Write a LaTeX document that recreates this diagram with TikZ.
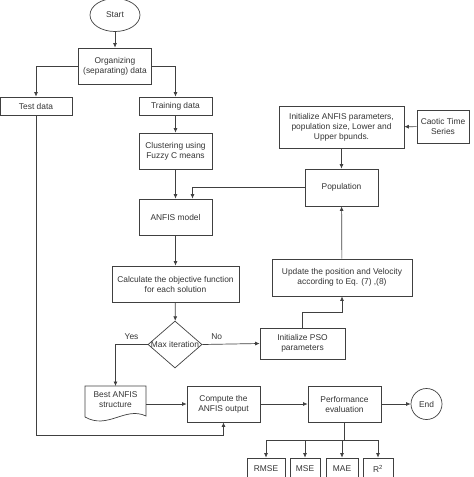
\documentclass[tikz,border=0pt]{standalone}
\usepackage{fontspec}
\setmainfont{Liberation Sans}
\usetikzlibrary{shapes.geometric,arrows.meta}
\begin{document}
\begin{tikzpicture}[x=1pt,y=-1pt,
 every node/.style={font=\fontsize{8.4}{10}\selectfont, text=black!80},
 box/.style={draw=black!75, line width=0.7pt, align=center, inner sep=0pt},
 conn/.style={draw=black!75, line width=0.7pt, -{Latex[length=4.5pt,width=4pt]}},
 plain/.style={draw=black!75, line width=0.7pt}]
\useasboundingbox (0,0) rectangle (474,477);
% nodes
\node[box, ellipse, minimum width=50pt, minimum height=33pt] (start) at (115,15) {Start};
\node[box, minimum width=73pt, minimum height=36pt] (org) at (115,66) {Organizing\\(separating) data};
\node[box, minimum width=72pt, minimum height=18pt] (test) at (36,106) {Test data};
\node[box, minimum width=73pt, minimum height=18pt] (train) at (175.5,106) {Training data};
\node[box, minimum width=73pt, minimum height=36pt] (clust) at (175.5,151) {Clustering using\\Fuzzy C means};
\node[box, minimum width=73pt, minimum height=36pt] (anfis) at (175.5,217) {ANFIS model};
\node[box, minimum width=127pt, minimum height=36pt] (calc) at (175.5,284) {Calculate the objective function\\for each solution};
\node[box, diamond, minimum width=54pt, minimum height=47pt] (dia) at (175,344.5) {};
\node at (dia.center) {Max iteration};
\node[box, minimum width=125pt, minimum height=42pt] (init) at (341.5,127) {Initialize ANFIS parameters,\\population size, Lower and\\Upper bpunds.};
\node[box, minimum width=52pt, minimum height=33pt] (caotic) at (443,126.5) {Caotic Time\\Series};
\node[box, minimum width=73pt, minimum height=37pt] (pop) at (341.5,187.5) {Population};
\node[box, minimum width=140pt, minimum height=37pt] (upd) at (342,277.5) {Update the position and Velocity\\according to Eq. (7) ,(8)};
\node[box, minimum width=85pt, minimum height=31pt] (pso) at (302.5,343.5) {Initialize PSO\\parameters};
\node[inner sep=0pt, minimum width=61pt, minimum height=28pt, align=center] (best) at (115.5,400) {Best ANFIS\\structure};
\draw[plain] (85,417) -- (85,386) -- (146,386) -- (146,416) .. controls (125,406) and (108,430) .. (85,417);
\node[box, minimum width=73pt, minimum height=36pt] (comp) at (223.5,404) {Compute the\\ANFIS output};
\node[box, minimum width=73pt, minimum height=36pt] (perf) at (344.5,404) {Performance\\evaluation};
\node[box, circle, minimum size=31pt] (end) at (426.5,404) {End};
\node[box, minimum width=38pt, minimum height=22pt] (rmse) at (266,469) {RMSE};
\node[box, minimum width=30pt, minimum height=22pt] (mse) at (305,469) {MSE};
\node[box, minimum width=32pt, minimum height=22pt] (mae) at (342,469) {MAE};
\node[box, minimum width=30pt, minimum height=22pt] (r2) at (378,469) {R\textsuperscript{2}};
% connectors
\draw[conn] (start) -- (org);
\draw[conn] (org.west) -| (test.north);
\draw[conn] (org.east) -| (train.north);
\draw[conn] (train) -- (clust);
\draw[conn] (clust) -- (anfis);
\draw[conn] (pop.west) -| ([xshift=17pt]anfis.north);
\draw[conn] (anfis) -- (calc);
\draw[conn] (calc) -- (dia);
\draw[conn] (dia.west) -| (best.north |- 0,386) node[pos=0.25, above=1pt] {Yes};
\draw[conn] (dia.east) -- (pso.west) node[pos=0.25, above=1pt] {No};
\coordinate (k) at (302.5,312);
\draw[conn] (pso.north) -- (k) -| (upd.south);
\draw[conn] (upd) -- (pop);
\draw[conn] (init) -- (pop);
\draw[conn] (caotic) -- (init);
\draw[conn] (best.east |- comp.west) -- (comp.west);
\coordinate (tb) at (36,435);
\draw[conn] (test.south) -- (tb) -| (comp.south);
\draw[conn] (comp) -- (perf);
\draw[conn] (perf) -- (end);
\coordinate (bus) at (344.5,440);
\draw[plain] (perf.south) -- (bus);
\draw[conn] (bus) -| (rmse.north);
\draw[conn] (bus) -| (mse.north);
\draw[conn] (bus) -| (mae.north);
\draw[conn] (bus) -| (r2.north);
\end{tikzpicture}
\end{document}
